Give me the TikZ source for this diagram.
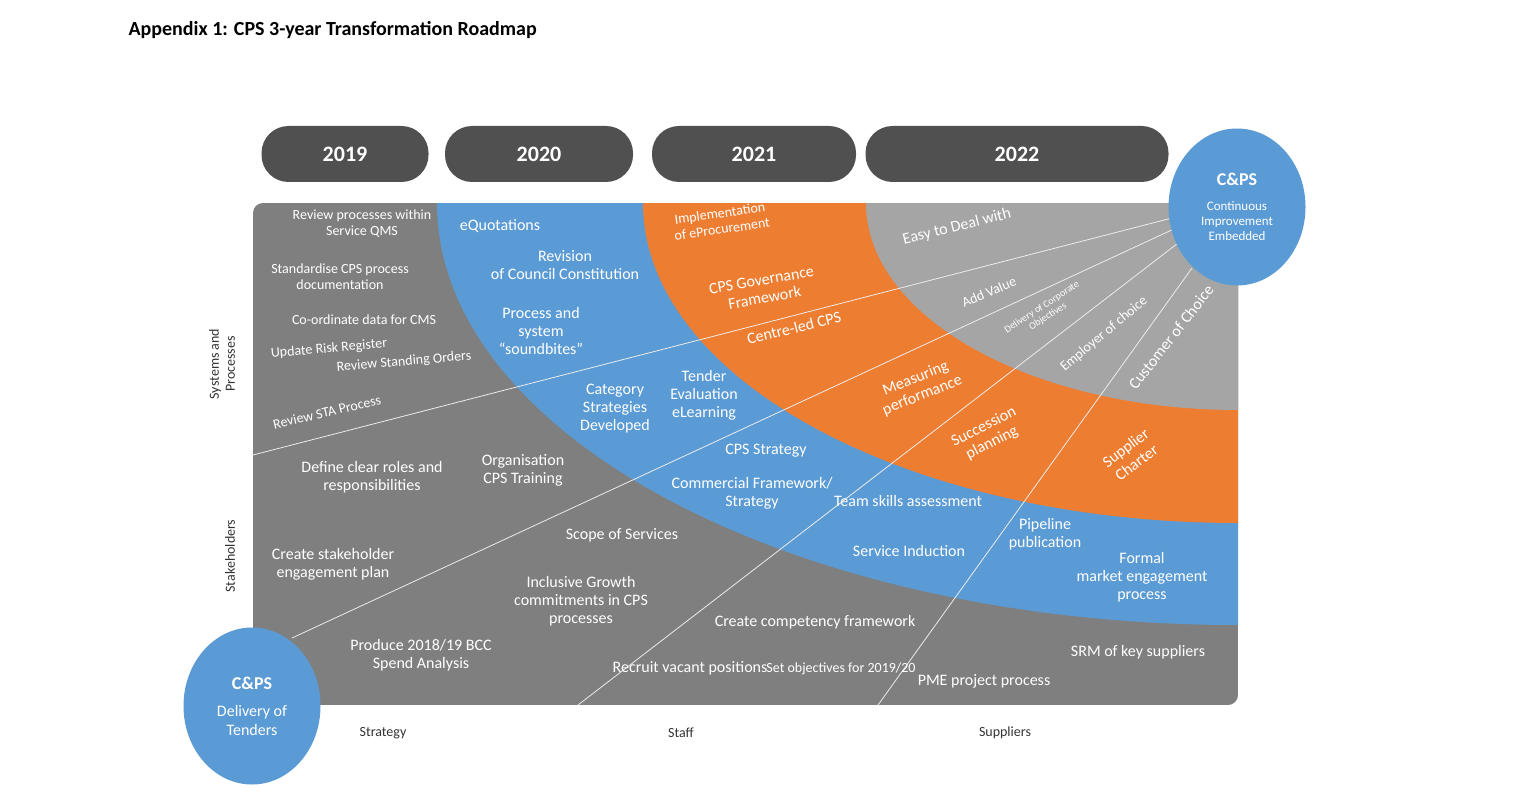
\documentclass[tikz,border=0pt]{standalone}
\usepackage{fontspec}
\usetikzlibrary{shapes.geometric}
\setmainfont{Carlito}
\definecolor{dg}{HTML}{7F7F7F}
\definecolor{bl}{HTML}{5B9BD5}
\definecolor{og}{HTML}{ED7D31}
\definecolor{lg}{HTML}{A5A5A5}
\definecolor{pill}{HTML}{505050}
\begin{document}
\begin{tikzpicture}[x=1pt,y=-1pt,
 t/.style={text=white,font=\fontsize{16}{18}\selectfont,align=center,inner sep=0},
 ts/.style={text=white,font=\fontsize{14}{16}\selectfont,align=center,inner sep=0},
 yr/.style={fill=pill,rounded corners=27pt,text=white,font=\bfseries\fontsize{22}{25}\selectfont},
 ax/.style={text=black!80,font=\fontsize{14}{16}\selectfont,inner sep=0},
 ray/.style={white!85!dg,line width=0.8pt},
 circ/.style={ellipse,fill=bl,text=white,minimum width=137pt,minimum height=157pt,align=center,inner sep=0}]
\useasboundingbox (0,0) rectangle (1530,805);
\node[anchor=west,font=\bfseries\fontsize{20}{23}\selectfont] (title) at (125,30) {Appendix 1: CPS 3-year Transformation Roadmap};
% years
\node[yr,minimum width=167pt,minimum height=56pt] (y1) at (345,154) {2019};
\node[yr,minimum width=188pt,minimum height=56pt] (y2) at (539,154) {2020};
\node[yr,minimum width=204pt,minimum height=56pt] (y3) at (754,154) {2021};
\node[yr,minimum width=303pt,minimum height=56pt] (y4) at (1017,154) {2022};
% main
\begin{scope}
\clip[rounded corners=10pt] (253,203) rectangle (1238,705);
\fill[dg] (253,203) rectangle (1238,705);
\fill[bl] (1238,203) ellipse [x radius=801, y radius=422];
\fill[og] (1238,203) ellipse [x radius=595, y radius=320];
\fill[lg] (1238,203) ellipse [x radius=372, y radius=207];
\coordinate (r1) at (253,455);
\coordinate (r2) at (292,638);
\coordinate (r3) at (578,705);
\coordinate (r4) at (878,705);
\end{scope}
\coordinate (c1) at (1172,218);
\coordinate (c2) at (1176,228);
\coordinate (c3) at (1182,240);
\coordinate (c4) at (1192,268);
\draw[ray] (r1) -- (c1);
\draw[ray] (r2) -- (c2);
\draw[ray] (r3) -- (c3);
\draw[ray] (r4) -- (c4);
\node[circ,font=\fontsize{13}{15}\selectfont] (top) at (1237,207) {{\bfseries\fontsize{18}{20}\selectfont C\&PS}\\[10pt]Continuous\\Improvement\\Embedded};
\node[circ,font=\fontsize{16}{19}\selectfont] (bot) at (252,706) {{\bfseries\fontsize{18}{20}\selectfont C\&PS}\\[8pt]Delivery of\\Tenders};
% dark area texts
\node[ts] (a1) at (362,224) {Review processes within\\Service QMS};
\node[ts] (a2) at (340,277) {Standardise CPS process\\documentation};
\node[ts] (a3) at (364,320) {Co-ordinate data for CMS};
\node[ts,rotate=5] (a4) at (329,349) {Update Risk Register};
\node[ts,rotate=5] (a5) at (404,362) {Review Standing Orders};
\node[ts,rotate=13] (a6) at (327,412) {Review STA Process};
\node[t] (a7) at (372,477) {Define clear roles and\\responsibilities};
\node[t] (a8) at (523,470) {Organisation\\CPS Training};
\node[t] (a9) at (333,564) {Create stakeholder\\engagement plan};
\node[t] (a10) at (622,535) {Scope of Services};
\node[t] (a11) at (581,601) {Inclusive Growth\\commitments in CPS\\processes};
\node[t] (a12) at (421,655) {Produce 2018/19 BCC\\Spend Analysis};
\node[t] (a13) at (815,622) {Create competency framework};
\node[t] (a14) at (690,668) {Recruit vacant positions};
\node[ts] (a15) at (841,669) {Set objectives for 2019/20};
\node[t] (a16) at (984,681) {PME project process};
\node[t] (a17) at (1138,652) {SRM of key suppliers};
% blue
\node[t] (b1) at (500,226) {eQuotations};
\node[t] (b2) at (565,265) {Revision\\of Council Constitution};
\node[t] (b3) at (541,331) {Process and\\system\\“soundbites”};
\node[t] (b4) at (615,409) {Category\\Strategies\\Developed};
\node[t] (b5) at (704,395) {Tender\\Evaluation\\eLearning};
\node[t] (b6) at (766,451) {CPS Strategy};
\node[t] (b7) at (752,493) {Commercial Framework/\\Strategy};
\node[t] (b8) at (908,501) {Team skills assessment};
\node[t] (b9) at (1045,534) {Pipeline\\publication};
\node[t] (b10) at (909,551) {Service Induction};
\node[t] (b11) at (1142,577) {Formal\\market engagement\\process};
% orange
\node[ts,rotate=8] (o1) at (721,221) {Implementation\\of eProcurement};
\node[t,rotate=10] (o2) at (763,289) {CPS Governance\\Framework};
\node[t,rotate=14] (o3) at (794,328) {Centre-led CPS};
\node[t,rotate=22] (o4) at (919,387) {Measuring\\performance};
\node[t,rotate=27] (o5) at (988,435) {Succession\\planning};
\node[t,rotate=37] (o6) at (1131,455) {Supplier\\Charter};
% light gray
\node[t,rotate=14] (g1) at (957,227) {Easy to Deal with};
\node[ts,rotate=23] (g2) at (989,292) {Add Value};
\node[text=white,font=\fontsize{10}{11}\selectfont,align=center,inner sep=0,rotate=33] (g3) at (1045,312) {Delivery of Corporate\\Objectives};
\node[ts,rotate=40] (g4) at (1104,334) {Employer of choice};
\node[t,rotate=52] (g5) at (1171,337) {Customer of Choice};
% axes
\node[ax,rotate=90,align=center] (s1) at (222,364) {Systems and\\Processes};
\node[ax,rotate=90] (s2) at (230,556) {Stakeholders};
\node[ax] (x1) at (383,733) {Strategy};
\node[ax] (x2) at (681,733) {Staff};
\node[ax] (x3) at (1005,733) {Suppliers};
\end{tikzpicture}
\end{document}
